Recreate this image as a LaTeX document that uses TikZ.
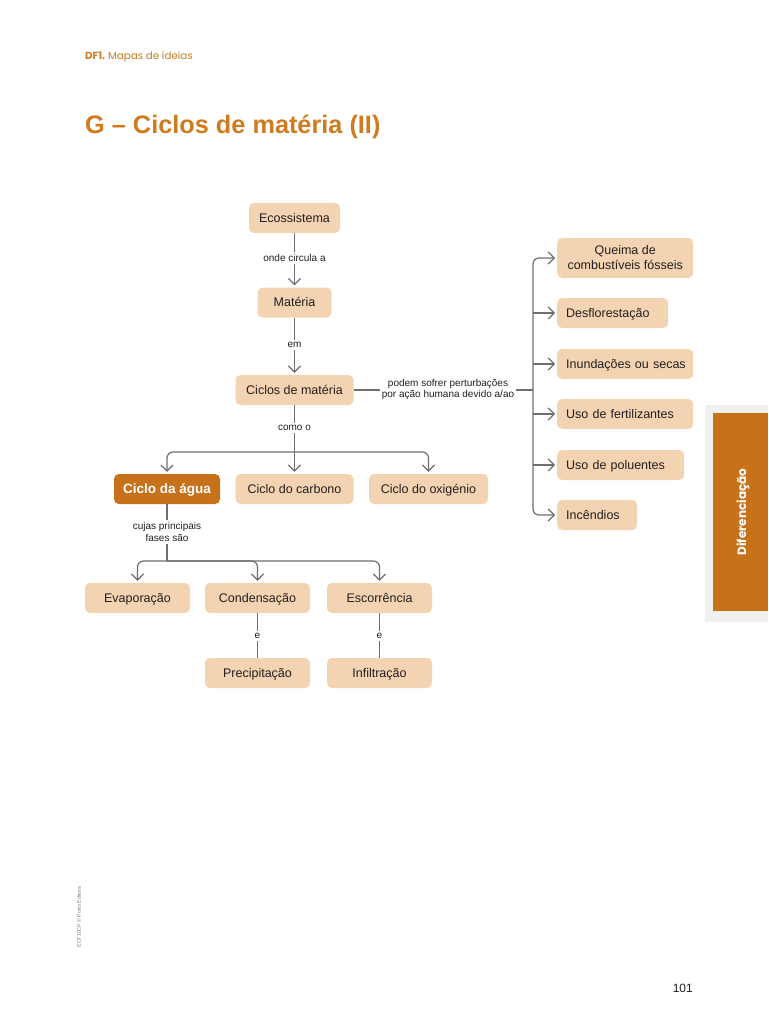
\documentclass[tikz,border=0pt]{standalone}
\usepackage{fontspec}
\setmainfont{Liberation Sans}
\newfontfamily\popp{Poppins}
\usetikzlibrary{arrows.meta}
\definecolor{peach}{HTML}{F3D3B1}
\definecolor{dorange}{HTML}{C8711B}
\definecolor{torange}{HTML}{CF7B20}
\definecolor{lgray}{HTML}{6E6F71}
\definecolor{txt}{HTML}{231F20}
\begin{document}
\begin{tikzpicture}[x=1pt,y=-1pt,
  box/.style={fill=peach, rounded corners=5pt, minimum height=30pt, inner ysep=0pt, inner xsep=9pt,
    font=\fontsize{12.5}{15}\selectfont, text=txt, align=center, text height=10.6pt, text depth=2pt},
  rbox/.style={box, anchor=west, text width=#1, align=left},
  lbl/.style={font=\fontsize{10}{11.5}\selectfont, align=center, inner sep=2pt, text=txt},
  con/.style={draw=lgray, line width=1.2pt},
  arr/.style={con, -{Straight Barb[length=6pt,width=12pt]}, shorten >=2pt}]
\fill[white] (0,0) rectangle (768,1024);
\useasboundingbox (0,0) rectangle (768,1024);

% header
\node[anchor=base west, inner sep=0, text=torange] (hdr) at (85,60)
  {\popp\fontsize{10.3}{12}\selectfont\bfseries DF1. \mdseries Mapas de ideias};
\node[anchor=base west, inner sep=0, text=torange, font=\bfseries\fontsize{25.3}{30}\selectfont] (title) at (85,134)
  {G – Ciclos de matéria (II)};

% tab
\fill[gray!12] (705,405) rectangle (768,622);
\fill[dorange] (713,413) rectangle (768,611);
\node[rotate=90, text=white, font=\popp\bfseries\fontsize{12}{14}\selectfont] (tab) at (743,512) {Diferenciação};

% copyright and page number
\node[rotate=90, font=\fontsize{5.2}{6}\selectfont, text=gray] (copy) at (79,917) {ECT10CP © Porto Editora};
\node[anchor=base east, inner sep=0, font=\fontsize{12}{14}\selectfont, text=txt] (pg) at (693,992) {101};

% main chain
\node[box, minimum width=91pt] (eco) at (294.5,218) {Ecossistema};
\node[box, minimum width=74pt] (mat) at (294.5,302.5) {Matéria};
\node[box, minimum width=118pt] (cm) at (294.5,390) {Ciclos de matéria};
\node[lbl] (l1) at (294.5,258) {onde circula a};
\node[lbl] (l2) at (294.5,345) {em};
\node[lbl] (l3) at (448,389.5) {podem sofrer perturbações\\por ação humana devido a/ao};
\node[lbl] (l4) at (294.5,428) {como o};

% right list
\node[box, anchor=west, minimum height=40pt, minimum width=136pt, text height=, text depth=] (q) at (557,258) {Queima de\\combustíveis fósseis};
\node[rbox=93pt] (d) at (557,313) {Desflorestação};
\node[rbox=118pt] (i) at (557,364) {\mbox{Inundações ou secas}};
\node[rbox=118pt] (f) at (557,414) {Uso de fertilizantes};
\node[rbox=109pt] (p) at (557,465) {Uso de poluentes};
\node[rbox=62pt] (inc) at (557,515) {Incêndios};

% cycles
\node[box, fill=dorange, text=white, font=\bfseries\fontsize{13.5}{15}\selectfont, minimum width=106pt] (agua) at (167,489) {Ciclo da água};
\node[box, minimum width=118pt] (carb) at (294.5,489) {Ciclo do carbono};
\node[box, minimum width=119pt] (oxi) at (428.5,489) {Ciclo do oxigénio};
\node[lbl] (cujas) at (167,532) {cujas principais\\fases são};

% phases
\node[box, minimum width=105pt] (evap) at (137.5,598) {Evaporação};
\node[box, minimum width=105pt] (cond) at (257.5,598) {Condensação};
\node[box, minimum width=105pt] (esc) at (379.5,598) {Escorrência};
\node[lbl] (e1) at (257.5,636) {e};
\node[lbl] (e2) at (379.5,636) {e};
\node[box, minimum width=105pt] (prec) at (257.5,673) {Precipitação};
\node[box, minimum width=105pt] (inf) at (379.5,673) {Infiltração};

% connectors
\draw[con] (eco) -- (l1);
\draw[arr] (l1) -- (mat);
\draw[con] (mat) -- (l2);
\draw[arr] (l2) -- (cm);
\draw[con] (cm.east) -- (cm.east -| l3.west);
\coordinate (j1) at (533,390);
\draw[con] (l3.east |- j1) -- (j1);
\draw[arr, rounded corners=6pt] (j1) |- (q.west);
\draw[arr, rounded corners=6pt] (j1) |- (inc.west);
\draw[arr] (j1 |- d.west) -- (d.west);
\draw[arr] (j1 |- i.west) -- (i.west);
\draw[arr] (j1 |- f.west) -- (f.west);
\draw[arr] (j1 |- p.west) -- (p.west);

\draw[con] (cm) -- (l4);
\coordinate (j2) at (294.5,452);
\draw[con] (l4) -- (j2);
\draw[arr, rounded corners=6pt] (j2) -| (agua.north);
\draw[arr] (j2) -- (carb.north);
\draw[arr, rounded corners=6pt] (j2) -| (oxi.north);

\draw[con] (agua) -- (cujas);
\coordinate (j3) at (167,561);
\draw[con] (cujas) -- (j3);
\draw[arr, rounded corners=6pt] (j3) -| (evap.north);
\draw[arr, rounded corners=6pt] (j3) -| (cond.north);
\draw[arr, rounded corners=6pt] (j3) -| (esc.north);

\draw[con] (cond) -- (e1);
\draw[con] (e1) -- (prec);
\draw[con] (esc) -- (e2);
\draw[con] (e2) -- (inf);
\end{tikzpicture}
\end{document}
